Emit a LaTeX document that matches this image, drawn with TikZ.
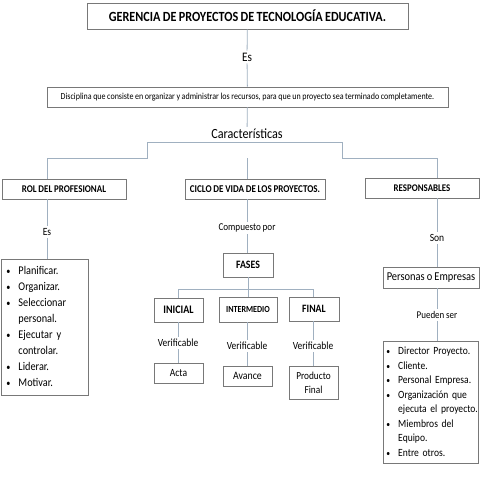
\documentclass[tikz,border=0pt]{standalone}
\usepackage{fontspec}
\setmainfont{Carlito}[FakeStretch=0.87, WordSpace=0.87]
\usetikzlibrary{positioning}
\definecolor{linea}{RGB}{160,176,192}
\definecolor{borde}{RGB}{120,120,120}
\newcommand{\pto}{\scalebox{0.8}{\textbullet}}

\begin{document}
\begin{tikzpicture}[x=1pt,y=-1pt,
    caja/.style={draw=borde, line width=0.8pt, inner sep=1pt, align=center},
    rotulo/.style={inner sep=2pt, align=center},
    une/.style={draw=linea, line width=0.8pt}]
    \useasboundingbox (0,0) rectangle (480,480);
    % titulo y definicion
    \node[caja, minimum width=321pt, minimum height=26pt, font=\fontsize{14}{16}\selectfont\bfseries] (tit) at (247.5,16) {GERENCIA DE PROYECTOS DE TECNOLOGÍA EDUCATIVA.};
    \node[rotulo, font=\fontsize{13}{15}\selectfont] (es1) at (247,57) {Es};
    \node[caja, minimum width=401pt, minimum height=20pt, font=\fontsize{9.2}{10}\selectfont] (dis) at (247.5,97) {Disciplina que consiste en organizar y administrar los recursos, para que un proyecto sea terminado completamente.};
    \node[rotulo, font=\fontsize{14}{16}\selectfont] (car) at (247,134) {Características};
    % tres ramas
    \node[caja, minimum width=124pt, minimum height=20pt, font=\fontsize{10.3}{11}\selectfont\bfseries] (rol) at (64,189) {ROL DEL PROFESIONAL};
    \node[caja, minimum width=140pt, minimum height=20pt, font=\fontsize{10.4}{11}\selectfont\bfseries] (cic) at (255,189) {CICLO DE VIDA DE LOS PROYECTOS.};
    \node[caja, minimum width=114pt, minimum height=20pt, font=\fontsize{10.2}{11}\selectfont\bfseries] (res) at (422,188) {RESPONSABLES};
    \node[rotulo, font=\fontsize{11}{12}\selectfont] (es2) at (47,232) {Es};
    \node[rotulo, font=\fontsize{10.5}{12}\selectfont] (com) at (247,228) {Compuesto por};
    \node[rotulo, font=\fontsize{11}{12}\selectfont] (son) at (437,238) {Son};
    \node[caja, minimum width=50pt, minimum height=24pt, font=\fontsize{11.3}{12}\selectfont\bfseries] (fas) at (248,265) {FASES};
    \node[caja, minimum width=96pt, minimum height=21pt, font=\fontsize{12}{14}\selectfont] (per) at (431,277.5) {Personas o Empresas};
    \node[rotulo, font=\fontsize{10.3}{12}\selectfont] (pue) at (437,315) {Pueden ser};
    % listas
    \node[caja, minimum width=87pt, minimum height=134pt, inner xsep=5pt, inner ysep=4pt, text width=77pt, align=left, anchor=north west, font=\fontsize{11.8}{16}\selectfont] (lis1) at (1,259) {%
      \begin{tabular}{@{}l@{\hspace{8pt}}l@{}}
        \pto & Planificar.\\
        \pto & Organizar.\\
        \pto & Seleccionar\\
             & personal.\\
        \pto & Ejecutar y\\
             & controlar.\\
        \pto & Liderar.\\
        \pto & Motivar.
      \end{tabular}};
    \node[caja, minimum width=95pt, minimum height=121pt, inner xsep=3pt, inner ysep=3pt, text width=89pt, align=left, anchor=north west, font=\fontsize{11}{14.5}\selectfont] (lis2) at (383,341) {%
      \begin{tabular}{@{}l@{\hspace{8pt}}l@{}}
        \pto & Director Proyecto.\\
        \pto & Cliente.\\
        \pto & Personal Empresa.\\
        \pto & Organización que\\
             & ejecuta el proyecto.\\
        \pto & Miembros del\\
             & Equipo.\\
        \pto & Entre otros.
      \end{tabular}};
    % fases
    \node[caja, minimum width=49pt, minimum height=24pt, font=\fontsize{11.5}{12}\selectfont\bfseries] (ini) at (178.5,310) {INICIAL};
    \node[caja, minimum width=58pt, minimum height=25pt, font=\fontsize{9.3}{10}\selectfont\bfseries] (int) at (248,309.5) {INTERMEDIO};
    \node[caja, minimum width=50pt, minimum height=24pt, font=\fontsize{11.2}{12}\selectfont\bfseries] (fin) at (314,309) {FINAL};
    \node[rotulo, font=\fontsize{10.9}{12}\selectfont] (v1) at (178,343) {Verificable};
    \node[rotulo, font=\fontsize{10.9}{12}\selectfont] (v2) at (247,346) {Verificable};
    \node[rotulo, font=\fontsize{10.9}{12}\selectfont] (v3) at (313,346) {Verificable};
    \node[caja, minimum width=49pt, minimum height=20pt, font=\fontsize{11}{12}\selectfont] (act) at (178.5,373) {Acta};
    \node[caja, minimum width=49pt, minimum height=20pt, font=\fontsize{11.3}{12}\selectfont] (ava) at (247.5,376) {Avance};
    \node[caja, minimum width=49pt, minimum height=33pt, font=\fontsize{10.7}{14}\selectfont] (pro) at (313.5,382.5) {Producto\\Final};
    % conectores
    \coordinate (ci) at (147,142);
    \coordinate (cd) at (342,142);
    \coordinate (ri) at (147,158);
    \coordinate (rd) at (342,158);
    \coordinate (li) at (47,158);
    \coordinate (ld) at (437,158);
    \coordinate (cc) at (247,158);
    \coordinate (fi) at (178,289);
    \coordinate (ff) at (313,289);
    \draw[une] (tit) -- (es1);
    \draw[une] (es1) -- (dis);
    \draw[une] (dis) -- (car);
    \draw[une] (li) -- (ri) -- (ci) -- (cd) -- (rd) -- (ld);
    \draw[une] (li) -- (li |- rol.north);
    \draw[une] (ld) -- (ld |- res.north);
    \draw[une] (cc) -- (cc |- cic.north);
    \draw[une] (es2 |- rol.south) -- (es2);
    \draw[une] (es2) -- (es2 |- lis1.north);
    \draw[une] (com |- cic.south) -- (com);
    \draw[une] (com) -- (com |- fas.north);
    \draw[une] (son |- res.south) -- (son);
    \draw[une] (son) -- (son |- per.north);
    \draw[une] (pue |- per.south) -- (pue);
    \draw[une] (pue) -- (pue |- lis2.north);
    \draw[une] (fas.south) -- (fas.south |- fi);
    \draw[une] (fi) -- (ff);
    \draw[une] (fi) -- (fi |- ini.north);
    \draw[une] (int.north |- fi) -- (int.north);
    \draw[une] (ff) -- (ff |- fin.north);
    \draw[une] (v1 |- ini.south) -- (v1);
    \draw[une] (v1) -- (v1 |- act.north);
    \draw[une] (v2 |- int.south) -- (v2);
    \draw[une] (v2) -- (v2 |- ava.north);
    \draw[une] (v3 |- fin.south) -- (v3);
    \draw[une] (v3) -- (v3 |- pro.north);
\end{tikzpicture}
\end{document}
